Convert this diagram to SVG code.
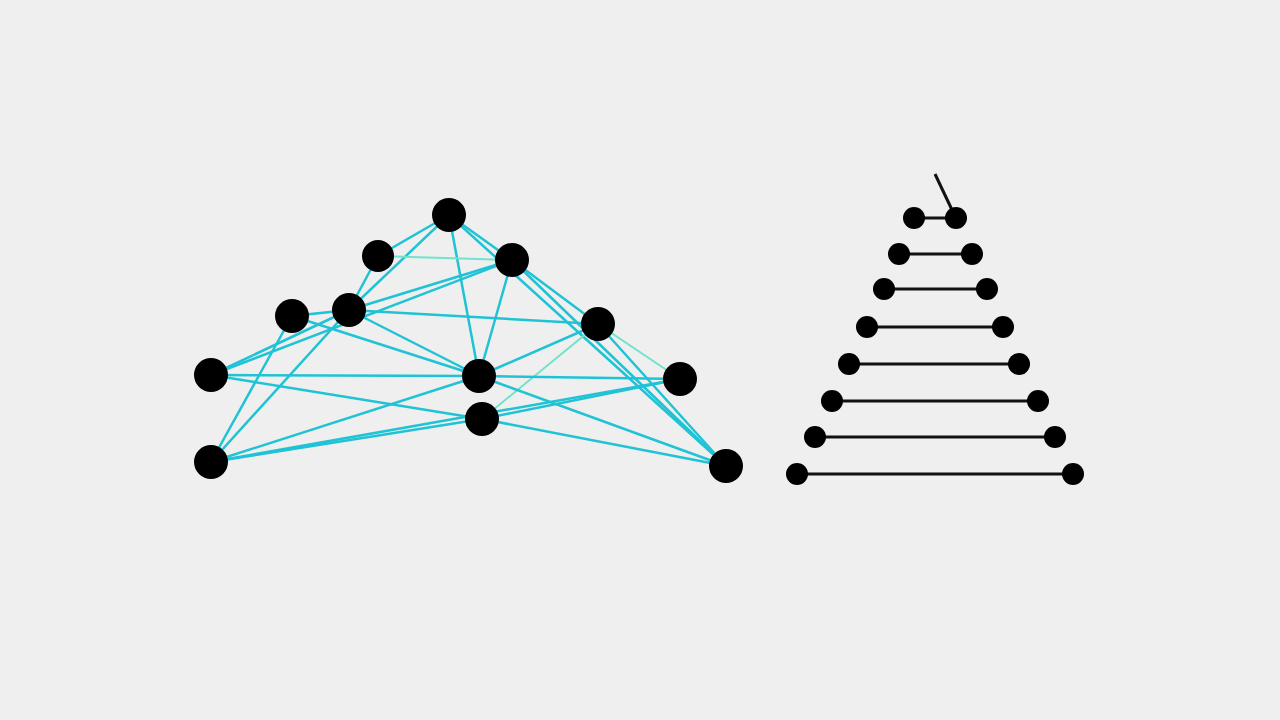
<svg xmlns="http://www.w3.org/2000/svg" width="1280" height="720" viewBox="0 0 1280 720">
<style>
.e{stroke:#1fc3d5;stroke-width:2.5;fill:none;stroke-linecap:round}
.l{stroke:#6fe3cc;stroke-width:2;fill:none;stroke-linecap:round}
.n{fill:#000}
.r{stroke:#111;stroke-width:3;fill:none}
</style>
<rect width="1280" height="720" fill="#efefef"/>
<g id="connectors">
<line class="e" x1="449" y1="215" x2="378" y2="256"/>
<line class="e" x1="449" y1="215" x2="349" y2="310"/>
<line class="e" x1="449" y1="215" x2="479" y2="376"/>
<line class="e" x1="449" y1="215" x2="512" y2="260"/>
<line class="e" x1="449" y1="215" x2="726" y2="466"/>
<line class="l" x1="378" y1="256" x2="512" y2="260"/>
<line class="e" x1="378" y1="256" x2="349" y2="310"/>
<line class="e" x1="349" y1="310" x2="512" y2="260"/>
<line class="e" x1="349" y1="310" x2="598" y2="324"/>
<line class="e" x1="349" y1="310" x2="479" y2="376"/>
<line class="e" x1="292" y1="316" x2="349" y2="310"/>
<line class="e" x1="292" y1="316" x2="479" y2="376"/>
<line class="e" x1="292" y1="316" x2="211" y2="462"/>
<line class="e" x1="349" y1="310" x2="211" y2="462"/>
<line class="e" x1="211" y1="375" x2="349" y2="310"/>
<line class="e" x1="211" y1="375" x2="512" y2="260"/>
<line class="e" x1="211" y1="375" x2="479" y2="376"/>
<line class="e" x1="211" y1="375" x2="482" y2="419"/>
<line class="e" x1="211" y1="462" x2="479" y2="376"/>
<line class="e" x1="211" y1="462" x2="482" y2="419"/>
<line class="e" x1="211" y1="462" x2="680" y2="379"/>
<line class="e" x1="512" y1="260" x2="479" y2="376"/>
<line class="e" x1="512" y1="260" x2="598" y2="324"/>
<line class="e" x1="512" y1="260" x2="726" y2="466"/>
<line class="e" x1="598" y1="324" x2="726" y2="466"/>
<line class="e" x1="479" y1="376" x2="598" y2="324"/>
<line class="l" x1="482" y1="419" x2="598" y2="324"/>
<line class="l" x1="598" y1="324" x2="680" y2="379"/>
<line class="e" x1="479" y1="376" x2="680" y2="379"/>
<line class="e" x1="479" y1="376" x2="726" y2="466"/>
<line class="e" x1="482" y1="419" x2="680" y2="379"/>
<line class="e" x1="482" y1="419" x2="726" y2="466"/>
<line class="r" x1="914" y1="218" x2="956" y2="218"/>
<line class="r" x1="935" y1="174" x2="953" y2="212"/>
<line class="r" x1="899" y1="254" x2="972" y2="254"/>
<line class="r" x1="884" y1="289" x2="987" y2="289"/>
<line class="r" x1="867" y1="327" x2="1003" y2="327"/>
<line class="r" x1="849" y1="364" x2="1019" y2="364"/>
<line class="r" x1="832" y1="401" x2="1038" y2="401"/>
<line class="r" x1="815" y1="437" x2="1055" y2="437"/>
<line class="r" x1="797" y1="474" x2="1073" y2="474"/>
</g>
<g id="nA"><circle class="n" cx="449" cy="215" r="17"/></g>
<g id="nB"><circle class="n" cx="378" cy="256" r="16"/></g>
<g id="nC"><circle class="n" cx="512" cy="260" r="17"/></g>
<g id="nD"><circle class="n" cx="292" cy="316" r="17"/></g>
<g id="nE"><circle class="n" cx="349" cy="310" r="17"/></g>
<g id="nF"><circle class="n" cx="598" cy="324" r="17"/></g>
<g id="nG"><circle class="n" cx="211" cy="375" r="17"/></g>
<g id="nH"><circle class="n" cx="479" cy="376" r="17"/></g>
<g id="nI"><circle class="n" cx="680" cy="379" r="17"/></g>
<g id="nJ"><circle class="n" cx="482" cy="419" r="17"/></g>
<g id="nK"><circle class="n" cx="211" cy="462" r="17"/></g>
<g id="nL"><circle class="n" cx="726" cy="466" r="17"/></g>
<g id="ladder">
<circle class="n" cx="914" cy="218" r="11"/><circle class="n" cx="956" cy="218" r="11"/>
<circle class="n" cx="899" cy="254" r="11"/><circle class="n" cx="972" cy="254" r="11"/>
<circle class="n" cx="884" cy="289" r="11"/><circle class="n" cx="987" cy="289" r="11"/>
<circle class="n" cx="867" cy="327" r="11"/><circle class="n" cx="1003" cy="327" r="11"/>
<circle class="n" cx="849" cy="364" r="11"/><circle class="n" cx="1019" cy="364" r="11"/>
<circle class="n" cx="832" cy="401" r="11"/><circle class="n" cx="1038" cy="401" r="11"/>
<circle class="n" cx="815" cy="437" r="11"/><circle class="n" cx="1055" cy="437" r="11"/>
<circle class="n" cx="797" cy="474" r="11"/><circle class="n" cx="1073" cy="474" r="11"/>
</g>
</svg>
